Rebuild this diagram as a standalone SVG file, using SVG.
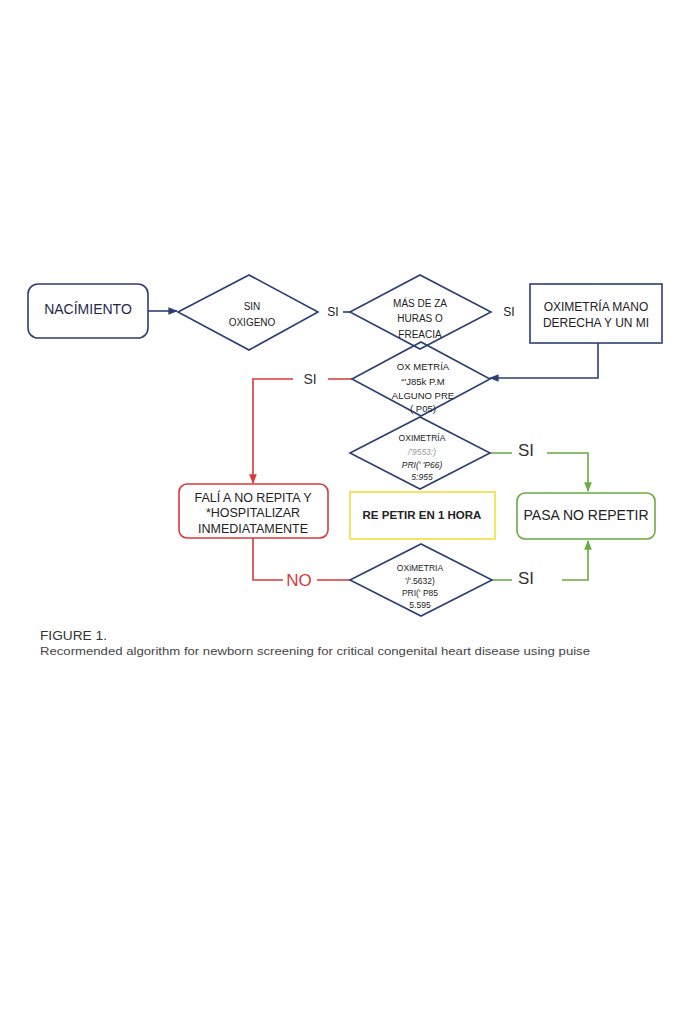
<svg xmlns="http://www.w3.org/2000/svg" width="683" height="1024" viewBox="0 0 683 1024">
<style>
text{font-family:"Liberation Sans","Open Sans",sans-serif;text-anchor:middle;dominant-baseline:central}
.nv{fill:none;stroke:#2b3f73;stroke-width:1.6}
.rd{fill:none;stroke:#d9383a;stroke-width:1.6}
.gr{fill:none;stroke:#6aab3f;stroke-width:1.6}
.t{fill:#222}
</style>
<defs>
<marker id="an" viewBox="0 0 10 10" refX="9" refY="5" markerWidth="6" markerHeight="6" orient="auto"><path d="M0,1L10,5L0,9z" fill="#2b3f73"/></marker>
<marker id="ar" viewBox="0 0 10 10" refX="9" refY="5" markerWidth="6" markerHeight="6" orient="auto"><path d="M0,1L10,5L0,9z" fill="#d9383a"/></marker>
<marker id="ag" viewBox="0 0 10 10" refX="9" refY="5" markerWidth="6" markerHeight="6" orient="auto"><path d="M0,1L10,5L0,9z" fill="#6aab3f"/></marker>
</defs>
<rect width="683" height="1024" fill="#fff"/>
<g id="connectors">
<path class="nv" d="M148,311H177" marker-end="url(#an)"/>
<path class="nv" d="M343,312H350"/>
<path class="nv" d="M598,343V378H490" marker-end="url(#an)"/>
<path class="rd" d="M352,379H328M293,379H253V483" marker-end="url(#ar)"/>
<path class="gr" d="M490,453H512M547,453H588V491" marker-end="url(#ag)"/>
<path class="rd" d="M253,538V580H283M317,580H350"/>
<path class="gr" d="M492,580H512M562,580H588V541" marker-end="url(#ag)"/>
</g>
<g id="nacimiento">
<rect class="nv" x="28" y="284" width="120" height="54" rx="10"/>
<text x="88" y="309" font-size="14" fill="#1e2a4a">NACÍMIENTO</text>
</g>
<g id="sin-oxigeno">
<polygon class="nv" points="178,312 249,275 318,312 249,350"/>
<text x="252" y="306" font-size="10" class="t">SIN</text>
<text x="252" y="322" font-size="10" class="t">OXIGENO</text>
<text x="333" y="312" font-size="12" class="t">SI</text>
</g>
<g id="mas-de-24">
<polygon class="nv" points="350,312 420,275 491,312 420,349"/>
<text x="420" y="303" font-size="10" class="t">MÁS DE ZA</text>
<text x="420" y="318" font-size="10" class="t">HURAS O</text>
<text x="420" y="334" font-size="10" class="t">FREACIA</text>
<text x="509" y="312" font-size="12" class="t">SI</text>
</g>
<g id="oximetria-mano">
<rect class="nv" x="530" y="284" width="132" height="59"/>
<text x="596" y="307" font-size="12" class="t">OXIMETRÍA MANO</text>
<text x="596" y="323" font-size="12" class="t">DERECHA Y UN MI</text>
</g>
<g id="oximetria-1">
<polygon class="nv" points="352,379 421,342 490,379 421,416"/>
<text x="423" y="366" font-size="9.5" class="t">OX METRÍA</text>
<text x="423" y="381" font-size="9.5" class="t">“'J85k P.M</text>
<text x="423" y="395" font-size="9.5" class="t">ALGUNO PRE</text>
<text x="423" y="408" font-size="9.5" class="t">( P05)</text>
<text x="310" y="379" font-size="14" fill="#333">SI</text>
</g>
<g id="oximetria-2">
<polygon class="nv" points="350,453 420,417 490,453 420,489"/>
<text x="422" y="438" font-size="8.5" class="t">OXIMETRÍA</text>
<text x="422" y="452" font-size="8.5" fill="#999" font-style="italic">/'9553:)</text>
<text x="422" y="465" font-size="8.5" class="t" font-style="italic">PRI(' 'P66)</text>
<text x="422" y="477" font-size="8.5" class="t" font-style="italic">5:955</text>
<text x="526" y="450" font-size="17" fill="#333">SI</text>
</g>
<g id="falla">
<rect x="179" y="484" width="149" height="54" rx="8" fill="none" stroke="#d9383a" stroke-width="1.6"/>
<text x="253" y="498" font-size="12.5" class="t">FALÍ A NO REPITA Y</text>
<text x="253" y="513" font-size="12.5" class="t">*HOSPITALIZAR</text>
<text x="253" y="529" font-size="12.5" class="t">INMEDIATAMENTE</text>
</g>
<g id="repetir">
<rect x="350" y="492" width="145" height="47" fill="none" stroke="#f0e23a" stroke-width="1.6"/>
<text x="422" y="515" font-size="11.5" font-weight="bold" fill="#222">RE PETIR EN 1 HORA</text>
</g>
<g id="pasa">
<rect x="517" y="493" width="138" height="46" rx="8" fill="none" stroke="#6aab3f" stroke-width="1.6"/>
<text x="586" y="515" font-size="14" class="t">PASA NO REPETIR</text>
</g>
<g id="oximetria-3">
<polygon class="nv" points="350,580 421,544 492,580 421,616"/>
<text x="420" y="568" font-size="8.5" class="t">OXiMETRIA</text>
<text x="420" y="581" font-size="8.5" class="t">'/'.5632)</text>
<text x="420" y="593" font-size="8.5" class="t">PRI(' P85</text>
<text x="420" y="605" font-size="8.5" class="t">5.595</text>
<text x="299" y="580" font-size="17" fill="#d9383a">NO</text>
<text x="526" y="578" font-size="17" fill="#333">SI</text>
</g>
<g id="caption">
<text x="40" y="636" font-size="12" fill="#333" textLength="67" lengthAdjust="spacingAndGlyphs" style="text-anchor:start">FIGURE 1.</text>
<text x="40" y="651" font-size="11" fill="#444" textLength="550" lengthAdjust="spacingAndGlyphs" style="text-anchor:start">Recormended algorithm for newborn screening for critical congenital heart disease using puise</text>
</g>
</svg>
